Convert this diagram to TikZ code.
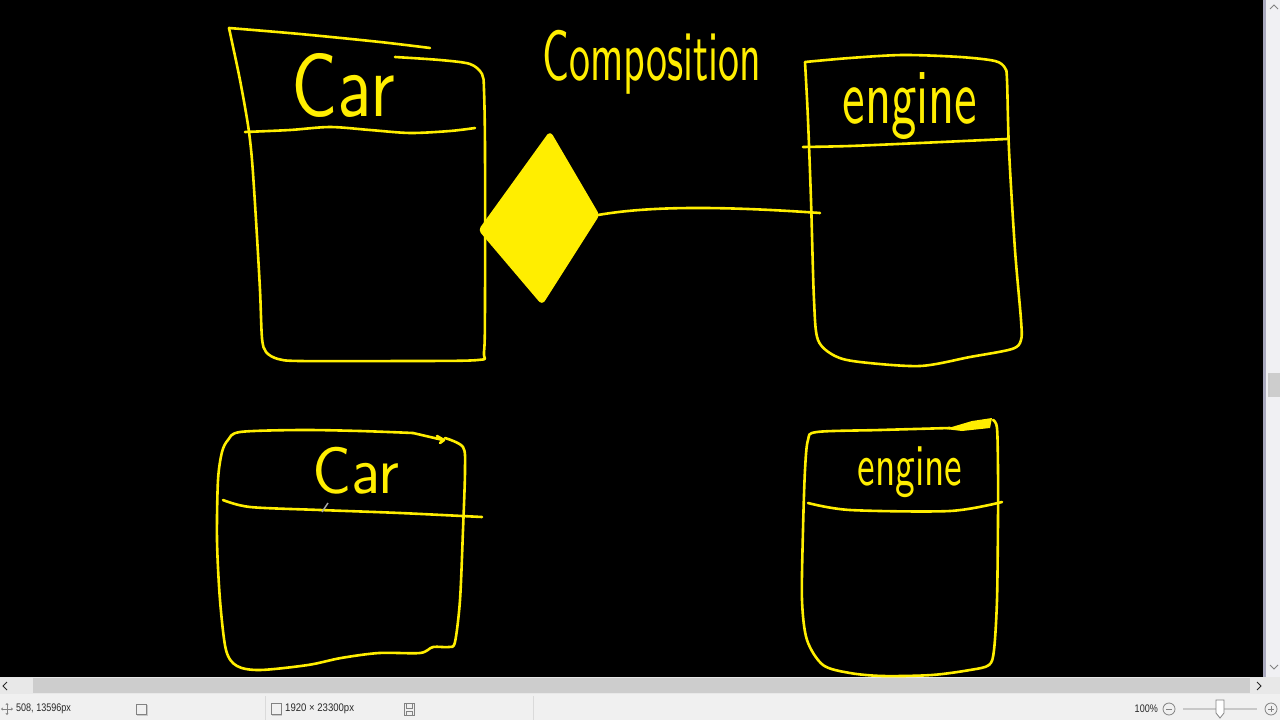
\documentclass[tikz,border=0pt]{standalone}
\usepackage{fontspec}
\newfontfamily\uifont{Liberation Sans}
\usetikzlibrary{arrows.meta}
\definecolor{penyellow}{RGB}{255,238,0}
\definecolor{uibg}{RGB}{240,240,240}
\definecolor{uitext}{RGB}{40,40,40}
\definecolor{uiicon}{RGB}{130,130,130}
\definecolor{uisep}{RGB}{218,218,218}
\definecolor{uiline}{RGB}{200,200,200}
\definecolor{track}{RGB}{232,232,232}
\definecolor{thumb}{RGB}{205,205,205}
\definecolor{vtrack}{RGB}{240,240,243}
\definecolor{vedge}{RGB}{170,170,190}
\definecolor{cursorgray}{RGB}{170,170,170}
\begin{document}
\begin{tikzpicture}[x=1pt,y=-1pt,
  penline/.style={draw=penyellow, line width=2.6pt, line cap=round, line join=round},
  hand/.style={text=penyellow, inner sep=0pt, font=\sffamily},
  ui/.style={text=uitext, inner sep=0pt, font=\uifont\fontsize{11}{12}\selectfont},
  icon/.style={draw=uiicon, line width=0.8pt}]
\useasboundingbox (0,0) rectangle (1280,720);
% canvas
\fill[black] (0,0) rectangle (1263,677);
% vertical scrollbar
\fill[vedge] (1263,0) rectangle (1266,677);
\fill[vtrack] (1266,0) rectangle (1280,677);
\fill[thumb] (1268,373) rectangle (1280,397);
\draw[uiicon, line width=0.8pt] (1270,9) -- (1274,5) -- (1278,9);
\draw[uiicon, line width=0.8pt] (1270,665) -- (1274,669) -- (1278,665);
% horizontal scrollbar
\fill[track] (0,677) rectangle (1280,694);
\fill[thumb] (33,678) rectangle (1250,693);
\draw[uitext, line width=0.8pt] (7,682) -- (3,686) -- (7,690);
\draw[uitext, line width=0.8pt] (1257,682) -- (1261,686) -- (1257,690);
% status bar
\fill[uibg] (0,694) rectangle (1280,720);
\draw[uisep, line width=0.6pt] (265,696) -- (265,720) (533,696) -- (533,720);
\draw[uiicon, line width=0.8pt, {Stealth[length=2pt,width=3pt]}-{Stealth[length=2pt,width=3pt]}] (1,709) -- (13,709);
\draw[uiicon, line width=0.8pt, {Stealth[length=2pt,width=3pt]}-{Stealth[length=2pt,width=3pt]}] (7,703) -- (7,715);
\node[ui, anchor=west] (pos) at (16,709) {\scalebox{0.82}[1]{508, 13596px}};
\draw[icon] (136,704) rectangle (146,714);
\draw[uiline, line width=1pt] (137,715) -- (147,715) -- (147,705);
\draw[icon] (271,703) rectangle (281,714);
\draw[uiline, line width=1pt] (272,715) -- (282,715);
\node[ui, anchor=west] (size) at (285,709) {\scalebox{0.87}[1]{1920 × 23300px}};
\draw[icon] (404,703) rectangle (414,715);
\draw[icon] (406,703) rectangle (412,708);
\draw[icon] (406,711) rectangle (412,715);
\node[ui, anchor=east] (zoomlbl) at (1158,709) {\scalebox{0.82}[1]{100\%}};
\draw[icon] (1169,709) circle (6);
\draw[icon] (1166,709) -- (1172,709);
\draw[uiline, line width=1.5pt] (1183,709) -- (1257,709);
\draw[icon, fill=white] (1216,700) -- (1224,700) -- (1224,713) -- (1220,718) -- (1216,713) -- cycle;
\draw[icon] (1271,709) circle (6);
\draw[icon] (1268,709) -- (1274,709) (1271,706) -- (1271,712);

% ===== title =====
\node[hand] (title) at (652,62) {\resizebox*{219pt}{64pt}{Composition}};

% ===== top-left Car box =====
\draw[penline] plot[smooth, tension=0.5] coordinates {(229,28) (300,34) (380,42) (430,48)};
\draw[penline] plot[smooth, tension=0.5] coordinates {(229,28) (232,42) (240,80) (248,125) (252,160) (256,220) (260,290) (262,338) (266,352) (278,359) (300,361) (400,361) (478,360) (484,352) (485,300) (485,150) (484,90) (482,74) (470,64) (440,60) (395,57)};
\draw[penline] plot[smooth, tension=0.5] coordinates {(245,132) (290,130) (330,127) (370,130) (410,133) (450,131) (475,128)};
\node[hand] (car1) at (343,85) {\resizebox*{103pt}{64pt}{Car}};

% ===== top-right engine box =====
\draw[penline] plot[smooth, tension=0.5] coordinates {(805,62) (850,58) (903,55) (960,57) (995,61) (1005,68) (1007,80) (1009,150) (1015,250) (1021,320) (1021,340) (1012,349) (970,357) (920,366) (860,362) (835,356) (818,340) (814,300) (811,200) (808,120) (806,80) (805,62)};
\draw[penline] plot[smooth, tension=0.5] coordinates {(803,147) (850,146) (920,143) (1007,139)};
\node[hand] (engine1) at (910,106) {\resizebox*{135pt}{67pt}{engine}};

% ===== composition diamond and connector =====
\coordinate (dL) at (480,230);
\coordinate (dT) at (550,133);
\coordinate (dR) at (598,215);
\coordinate (dB) at (542,303);
\coordinate (eL) at (820,213);
\filldraw[penline, fill=penyellow, rounded corners=3pt] (dL) -- (dT) -- (dR) -- (dB) -- cycle;
\draw[penline] (dR) .. controls (650,206) and (720,206) .. (eL);

% ===== bottom-left Car box =====
\draw[penline] plot[smooth, tension=0.5] coordinates {(413,433) (360,431) (300,430) (240,432) (228,440) (222,452) (218,480) (217,540) (220,600) (226,650) (237,666) (260,670) (308,665) (341,658) (379,653) (420,653) (433,647) (449,647) (455,642) (460,600) (463,530) (465,470) (463,447) (445,438)};
\draw[penline] (413,433) -- (443,440);
\draw[penline] (437,436) -- (444,440) -- (440,443);
\draw[penline] plot[smooth, tension=0.5] coordinates {(223,500) (250,507) (320,510) (400,513) (482,517)};
\draw[cursorgray, line width=1.5pt] (322,512) -- (328,503);
\node[hand] (car2) at (356,471) {\resizebox*{87pt}{47pt}{Car}};

% ===== bottom-right engine box =====
\draw[penline] plot[smooth, tension=0.5] coordinates {(950,428) (880,430) (817,432) (808,440) (805,470) (803,530) (802,600) (807,640) (823,665) (850,673) (883,676) (932,675) (970,670) (989,665) (994,650) (997,600) (998,520) (998,470) (997,428) (993,420)};
\fill[penyellow] (945,429) -- (972,421) -- (992,418) -- (990,428) -- (962,431) -- cycle;
\draw[penline] plot[smooth, tension=0.5] coordinates {(808,503) (850,510) (950,511) (1002,502)};
\node[hand] (engine2) at (910,472) {\resizebox*{105pt}{51pt}{engine}};
\end{tikzpicture}
\end{document}
